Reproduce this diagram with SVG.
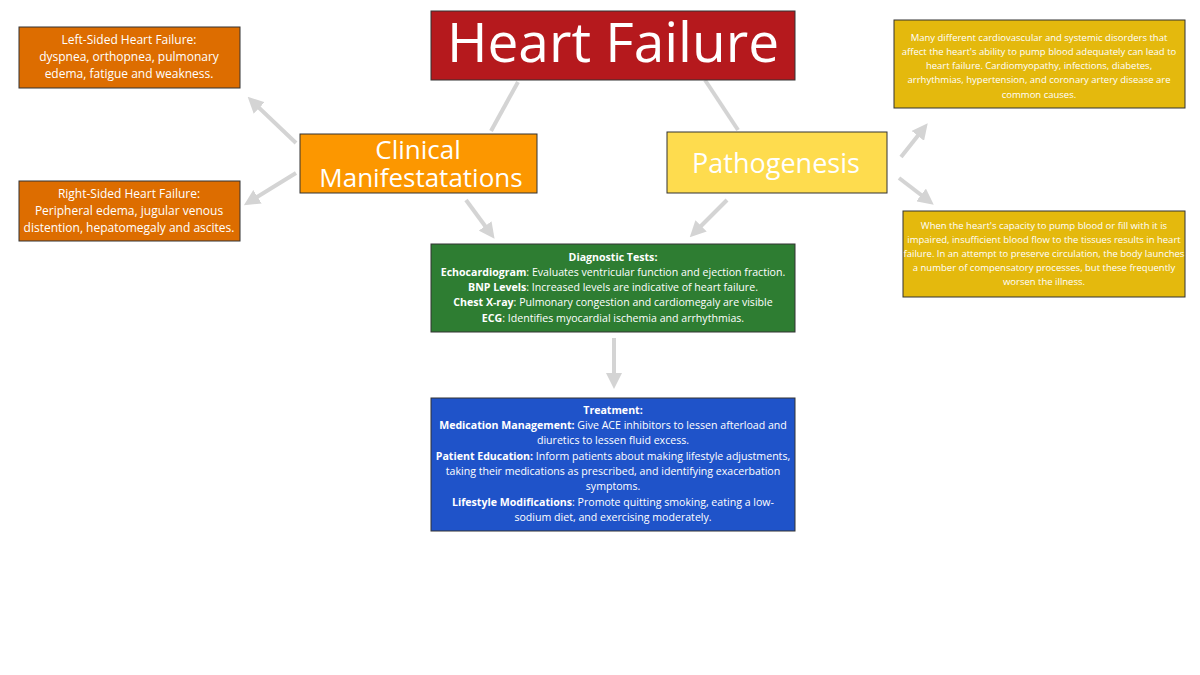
<svg xmlns="http://www.w3.org/2000/svg" width="1200" height="675" viewBox="0 0 1200 675">
<style>
text{font-family:"Open Sans","Noto Sans",sans-serif;fill:#fff;text-anchor:middle}
.b{stroke:#333;stroke-width:1}
.s{font-size:12px}
.t{font-size:9.5px}
.m{font-size:10.6px}
.c line{stroke:#d4d4d4;stroke-width:4}
</style>
<defs><marker id="a" markerWidth="4" markerHeight="4" refX="2.5" refY="2" orient="auto"><path d="M0,0L4,2L0,4Z" fill="#d4d4d4"/></marker></defs>
<rect width="1200" height="675" fill="#fff"/>
<g class="c">
<line x1="518" y1="82" x2="491" y2="131"/>
<line x1="705" y1="80" x2="738" y2="130"/>
<line x1="296" y1="143" x2="252" y2="101" marker-end="url(#a)"/>
<line x1="296" y1="173" x2="249" y2="202" marker-end="url(#a)"/>
<line x1="466" y1="200" x2="491" y2="234" marker-end="url(#a)"/>
<line x1="727" y1="200" x2="694" y2="233" marker-end="url(#a)"/>
<line x1="614" y1="338" x2="614" y2="383" marker-end="url(#a)"/>
<line x1="901" y1="157" x2="924" y2="128" marker-end="url(#a)"/>
<line x1="899" y1="178" x2="929" y2="201" marker-end="url(#a)"/>
</g>
<g id="title"><rect class="b" x="431" y="11" width="364" height="69" fill="#b5191d"/><text x="613" y="62" font-size="55">Heart Failure</text></g>
<g id="clinical"><rect class="b" x="300" y="134" width="237" height="59" fill="#fc9700"/><text font-size="26"><tspan x="418" y="159">Clinical</tspan><tspan x="421" y="187">Manifestatations</tspan></text></g>
<g id="patho"><rect class="b" x="667" y="132" width="220" height="61" fill="#fedc4e"/><text x="776" y="173" font-size="27">Pathogenesis</text></g>
<g id="left"><rect class="b" x="19" y="27" width="221" height="61" fill="#dd6d00"/><text class="s"><tspan x="129" y="44">Left-Sided Heart Failure:</tspan><tspan x="129" y="61">dyspnea, orthopnea, pulmonary</tspan><tspan x="129" y="78">edema, fatigue and weakness.</tspan></text></g>
<g id="right"><rect class="b" x="19" y="181" width="221" height="60" fill="#dd6d00"/><text class="s"><tspan x="129" y="198">Right-Sided Heart Failure:</tspan><tspan x="129" y="215">Peripheral edema, jugular venous</tspan><tspan x="129" y="232">distention, hepatomegaly and ascites.</tspan></text></g>
<g id="causes"><rect class="b" x="894" y="20" width="291" height="88" fill="#e4b90d"/><text class="t"><tspan x="1039" y="41">Many different cardiovascular and systemic disorders that</tspan><tspan x="1039" y="55">affect the heart's ability to pump blood adequately can lead to</tspan><tspan x="1039" y="69">heart failure. Cardiomyopathy, infections, diabetes,</tspan><tspan x="1039" y="83">arrhythmias, hypertension, and coronary artery disease are</tspan><tspan x="1039" y="98">common causes.</tspan></text></g>
<g id="mech"><rect class="b" x="903" y="211" width="282" height="86" fill="#e4b90d"/><text class="t"><tspan x="1044" y="229">When the heart's capacity to pump blood or fill with it is</tspan><tspan x="1044" y="243">impaired, insufficient blood flow to the tissues results in heart</tspan><tspan x="1044" y="257">failure. In an attempt to preserve circulation, the body launches</tspan><tspan x="1044" y="271">a number of compensatory processes, but these frequently</tspan><tspan x="1044" y="285">worsen the illness.</tspan></text></g>
<g id="diag"><rect class="b" x="431" y="244" width="364" height="88" fill="#2e7d32"/><text class="m"><tspan x="613" y="261" font-weight="bold">Diagnostic Tests:</tspan><tspan x="613" y="276"><tspan font-weight="bold">Echocardiogram</tspan>: Evaluates ventricular function and ejection fraction.</tspan><tspan x="613" y="291"><tspan font-weight="bold">BNP Levels</tspan>: Increased levels are indicative of heart failure.</tspan><tspan x="613" y="306"><tspan font-weight="bold">Chest X-ray</tspan>: Pulmonary congestion and cardiomegaly are visible</tspan><tspan x="613" y="322"><tspan font-weight="bold">ECG</tspan>: Identifies myocardial ischemia and arrhythmias.</tspan></text></g>
<g id="treat"><rect class="b" x="431" y="398" width="364" height="133" fill="#1f53c9"/><text class="m"><tspan x="613" y="414" font-weight="bold">Treatment:</tspan><tspan x="613" y="429"><tspan font-weight="bold">Medication Management:</tspan> Give ACE inhibitors to lessen afterload and</tspan><tspan x="613" y="444">diuretics to lessen fluid excess.</tspan><tspan x="613" y="460"><tspan font-weight="bold">Patient Education:</tspan> Inform patients about making lifestyle adjustments,</tspan><tspan x="613" y="475">taking their medications as prescribed, and identifying exacerbation</tspan><tspan x="613" y="490">symptoms.</tspan><tspan x="613" y="506"><tspan font-weight="bold">Lifestyle Modifications</tspan>: Promote quitting smoking, eating a low-</tspan><tspan x="613" y="521">sodium diet, and exercising moderately.</tspan></text></g>
</svg>
